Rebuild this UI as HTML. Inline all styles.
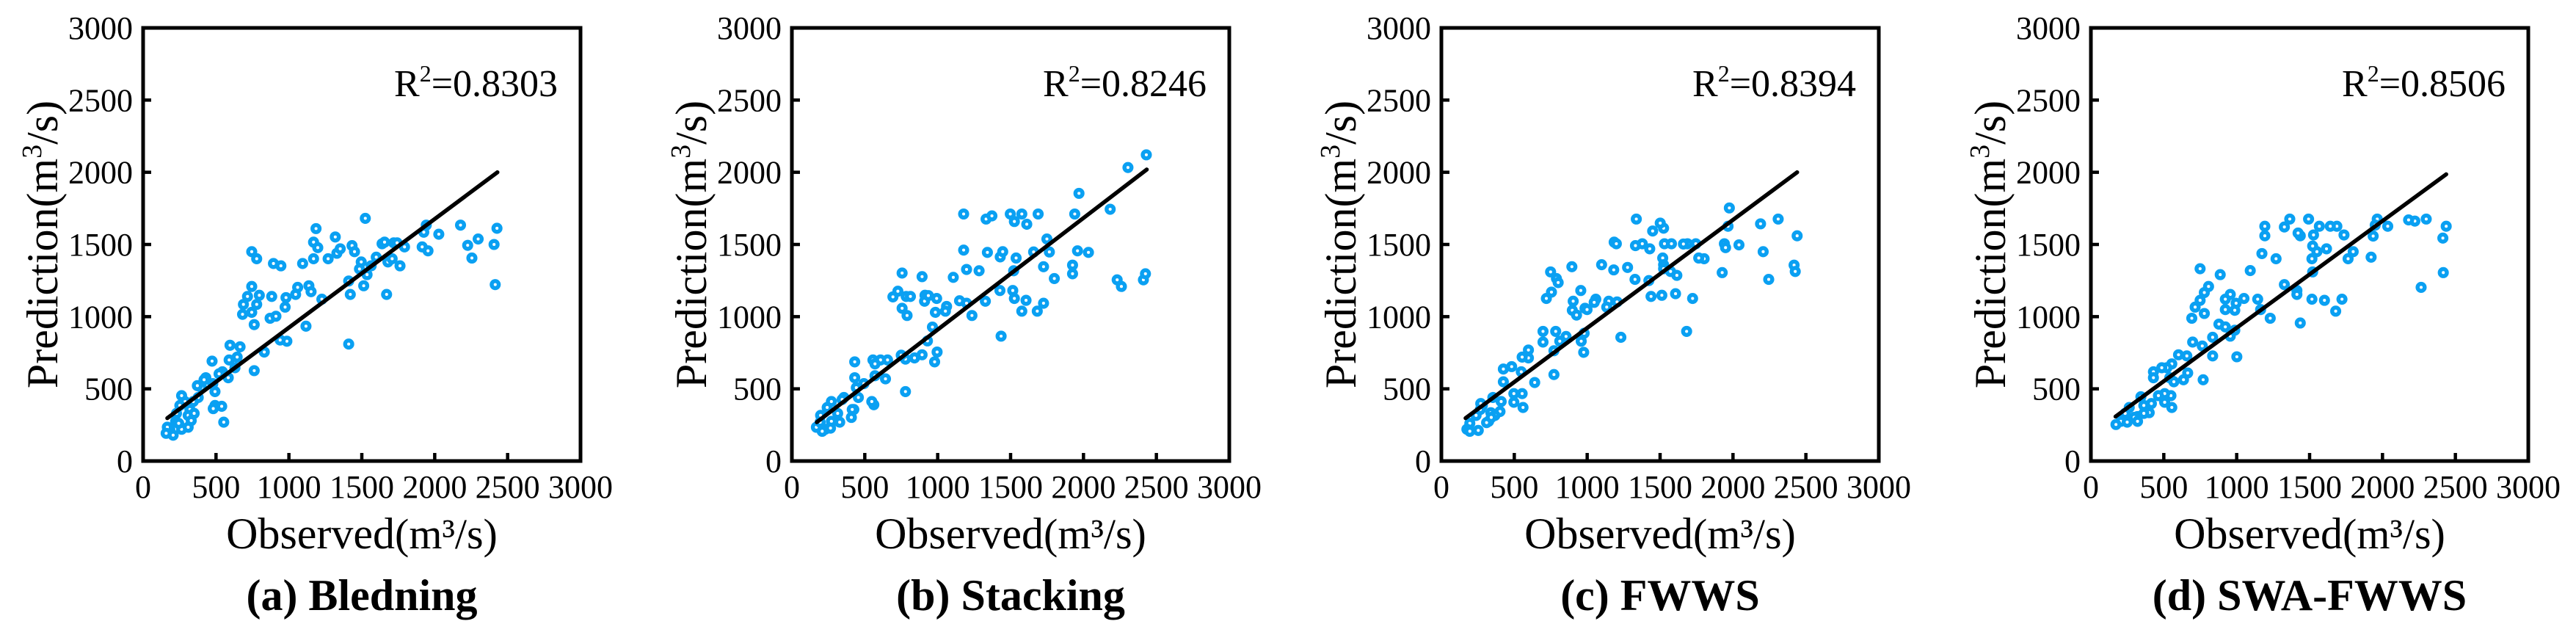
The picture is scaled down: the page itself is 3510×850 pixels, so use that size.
<!DOCTYPE html>
<html><head><meta charset="utf-8">
<style>
html,body{margin:0;padding:0;background:#fff;}
svg{display:block;font-family:"Liberation Serif","DejaVu Serif",serif;}
</style></head>
<body>
<svg id="fig" width="3510" height="850" viewBox="0 0 3510 850" xmlns="http://www.w3.org/2000/svg"></svg>
<script>
// ---- data ----
const panelTitles = ["(a) Bledning","(b) Stacking","(c) FWWS","(d) SWA-FWWS"];
const r2Labels = ["0.8303","0.8246","0.8394","0.8506"];
const tickValues = [0,500,1000,1500,2000,2500,3000];
const tickLabels = ["0","500","1000","1500","2000","2500","3000"];

const obsA = [745,779,745,716,682,688,745,762,779,797,882,894,945,871,911,974,980,986,940,1046,1060,1094,1117,1137,1152,1169,1169,1186,1198,1226,1269,1318,1329,1352,1410,1421,1433,1450,1410,1524,1484,1513,1536,1496,1564,1599,1639,1656,1679,1708,1719,1742,1762,1793,1670,1914,1925,1942,1954,2028,2177,2226,2255,2298,2407,2427,2415,596,590,584,645,630,544,521,473,478,493,430,418,401,378,344,321,287,252,264,229,223,183,166,206,264,309,309,350,493,539,553,372,158,244,330,762,831,665,481];
const predA = [1450,1401,1209,1140,1016,1085,1030,945,1085,1148,1140,1368,1352,989,1003,1066,1132,830,838,1154,1203,1368,934,1214,1173,1401,1516,1610,1478,1121,1401,1552,1439,1470,1247,1154,1492,1450,810,1681,1330,1214,1291,1379,1352,1412,1505,1516,1379,1401,1511,1511,1352,1483,1154,1483,1585,1634,1456,1571,1634,1494,1406,1538,1500,1612,1222,802,700,577,720,646,618,604,692,536,481,577,563,508,440,412,357,412,385,453,330,275,220,234,179,220,234,316,330,385,379,269,522,192,261,280,626,755,791,363];

const obsB = [2431,2305,1969,1940,2183,1178,1332,1372,1498,1526,1577,1611,1689,1749,1766,1658,1726,1800,1959,2034,1925,1925,2231,2260,2411,2425,1178,1198,1284,1341,1429,1446,1538,1521,1515,1526,1427,1327,1606,1577,1683,1726,1435,1235,1198,1150,1107,1061,1053,993,984,893,913,910,936,964,930,996,979,893,841,756,727,693,756,790,784,813,779,779,750,656,608,556,570,642,570,562,548,494,442,456,431,431,357,425,408,345,314,271,242,197,168,228,271,328,414,265,208,194];
const predB = [2121,2033,1854,1711,1744,1711,1676,1698,1711,1659,1711,1640,1711,1538,1448,1448,1346,1264,1456,1445,1357,1297,1255,1209,1255,1297,1461,1327,1318,1445,1414,1450,1406,1318,1181,1126,1181,1107,1113,1038,1038,1093,865,1008,1093,1110,1272,1071,1038,1126,1030,1277,1148,1107,1146,928,832,755,687,736,714,1302,1176,1137,1058,1008,1140,1140,481,706,733,700,700,700,673,569,591,390,412,536,508,440,687,577,440,357,302,426,330,412,371,316,234,220,275,269,357,228,206,269];

const obsC = [1975,2310,2189,1966,2041,1941,1949,2440,2207,2245,2419,2427,1926,1802,1765,1745,1688,1660,1578,1530,1524,1501,1449,1429,1337,1331,1378,1328,1423,1438,1512,1518,1524,1572,1615,1606,1723,1682,1524,1185,1200,1182,1099,1277,1231,1205,1148,1134,1059,1048,985,999,956,904,898,927,895,979,976,959,855,812,789,801,749,755,720,697,697,784,772,772,597,597,554,548,640,482,425,425,497,554,560,497,410,402,339,353,281,267,324,270,238,195,175,195,253,310,367,342];
const predC = [1753,1676,1643,1626,1497,1505,1478,1560,1450,1258,1357,1313,1305,1401,1406,1505,1505,1503,1505,1505,1613,1648,1593,1470,1676,1492,1505,1258,1250,1140,1148,1406,1360,1313,1286,1159,1126,898,1332,1516,1505,1324,1360,1341,857,1102,1107,1066,1121,1099,1058,1049,1181,1107,1044,1011,1346,885,753,830,863,830,1264,1236,1310,1170,1126,898,824,898,764,599,769,714,720,618,544,654,637,549,467,467,371,407,412,343,335,440,385,357,275,398,316,261,220,206,212,266,316,302];

const obsD = [2437,2414,2417,2265,2300,2222,2179,2036,1964,1950,1936,1922,1799,1764,1736,1722,1679,1687,1642,1616,1602,1567,1550,1527,1521,1516,1521,1516,1493,1436,1436,1421,1413,1413,1327,1327,1364,1270,1230,1193,1193,1173,1164,1144,1093,1050,996,987,956,922,922,887,878,922,987,956,1001,835,835,807,778,749,749,778,715,692,698,764,770,658,601,664,635,555,521,541,569,486,429,429,549,555,506,506,463,415,400,363,343,320,297,263,235,206,172,249,320,363];
const predD = [1626,1544,1305,1203,1676,1662,1670,1626,1676,1634,1558,1412,1450,1401,1566,1121,1038,1626,1626,1470,1113,1626,1450,1566,1489,1401,1310,1121,1676,956,1560,1579,1181,1154,1222,1621,1676,1401,989,1626,1560,1437,1049,1121,1319,1126,1093,1044,1154,1049,1121,1291,948,929,906,865,722,857,728,1209,1167,1113,1332,1022,1066,989,824,797,563,728,736,610,563,673,646,577,549,646,618,577,453,371,407,467,453,398,335,330,445,308,302,371,330,275,253,269,275,385];

const observedSets = [obsA, obsB, obsC, obsD];
const predictedSets = [predA, predB, predC, predD];
const fitX0 = [166,171,166,169];
const fitX1 = [2430,2434,2440,2437];
const fitY0 = [297,269,297,308];
const fitY1 = [2000,2019,2000,1986];

// ---- layout ----
const NS = "http://www.w3.org/2000/svg";
const svg = document.getElementById("fig");
const lefts = [195,1079,1964,2849];
const W = 596, TOP = 38, BOT = 628, H = BOT - TOP;
const MAXV = 3000;

function mk(tag, attrs, parent, text){
  const e = document.createElementNS(NS, tag);
  for (const k in attrs) e.setAttribute(k, attrs[k]);
  if (text !== undefined) e.textContent = text;
  (parent || svg).appendChild(e);
  return e;
}

for (let p = 0; p < 4; p++){
  const L = lefts[p];
  const sx = v => L + v / MAXV * W;
  const sy = v => BOT - v / MAXV * H;

  const g = mk("g", {});
  
  

  const pts = mk("g", {}, g);
  
  
  const ox = observedSets[p], py = predictedSets[p];
  for (let i = 0; i < ox.length; i++){
    const c = mk("circle", {cx: sx(ox[i]), cy: sy(py[i]), r: 4.8, fill: "#fff", stroke: "#0aa0f2", "stroke-width": 5.5}, pts);
    
    
  }

  const fl = mk("line", {x1: sx(fitX0[p]), y1: sy(fitY0[p]), x2: sx(fitX1[p]), y2: sy(fitY1[p]), stroke: "#000", "stroke-width": 5.5, "stroke-linecap": "round"}, g);
  
  

  const fr = mk("rect", {x: L, y: TOP, width: W, height: H, fill: "none", stroke: "#000", "stroke-width": 5}, g);
  
  

  for (let t = 0; t < tickValues.length; t++){
    const v = tickValues[t];
    const X = sx(v), Y = sy(v);
    if (t > 0 && t < tickValues.length - 1){
      const tk = mk("line", {x1: X, y1: BOT, x2: X, y2: BOT - 11, stroke: "#000", "stroke-width": 4.5}, g);
      
      
      const ty = mk("line", {x1: L, y1: Y, x2: L + 11, y2: Y, stroke: "#000", "stroke-width": 4.5}, g);
      
      
    }
    const xl = mk("text", {x: X, y: 678, "font-size": 44, "text-anchor": "middle"}, g, tickLabels[t]);
    
    
    const yl = mk("text", {x: L - 14, y: Y + 15, "font-size": 44, "text-anchor": "end"}, g, tickLabels[t]);
    
    
  }

  const r2 = mk("text", {x: L + 342, y: 131, "font-size": 52}, g);
  
  
  mk("tspan", {}, r2, "R");
  mk("tspan", {dy: -20, "font-size": 32}, r2, "2");
  mk("tspan", {dy: 20}, r2, "=" + r2Labels[p]);

  const yt = mk("text", {x: 0, y: 0, "font-size": 60, "text-anchor": "middle", transform: "translate(" + (L - 117) + ",333) rotate(-90)"}, g);
  
  
  mk("tspan", {}, yt, "Prediction(m");
  mk("tspan", {dy: -22, "font-size": 38}, yt, "3");
  mk("tspan", {dy: 22}, yt, "/s)");

  const xt = mk("text", {x: L + W/2, y: 747, "font-size": 60, "text-anchor": "middle"}, g);
  
  
  mk("tspan", {}, xt, "Observed");
  mk("tspan", {"font-size": 58}, xt, "(m³/s)");

  const cp = mk("text", {x: L + W/2, y: 831, "font-size": 60, "font-weight": "bold", "text-anchor": "middle"}, g, panelTitles[p]);
  
  
}
</script>
</body></html>
